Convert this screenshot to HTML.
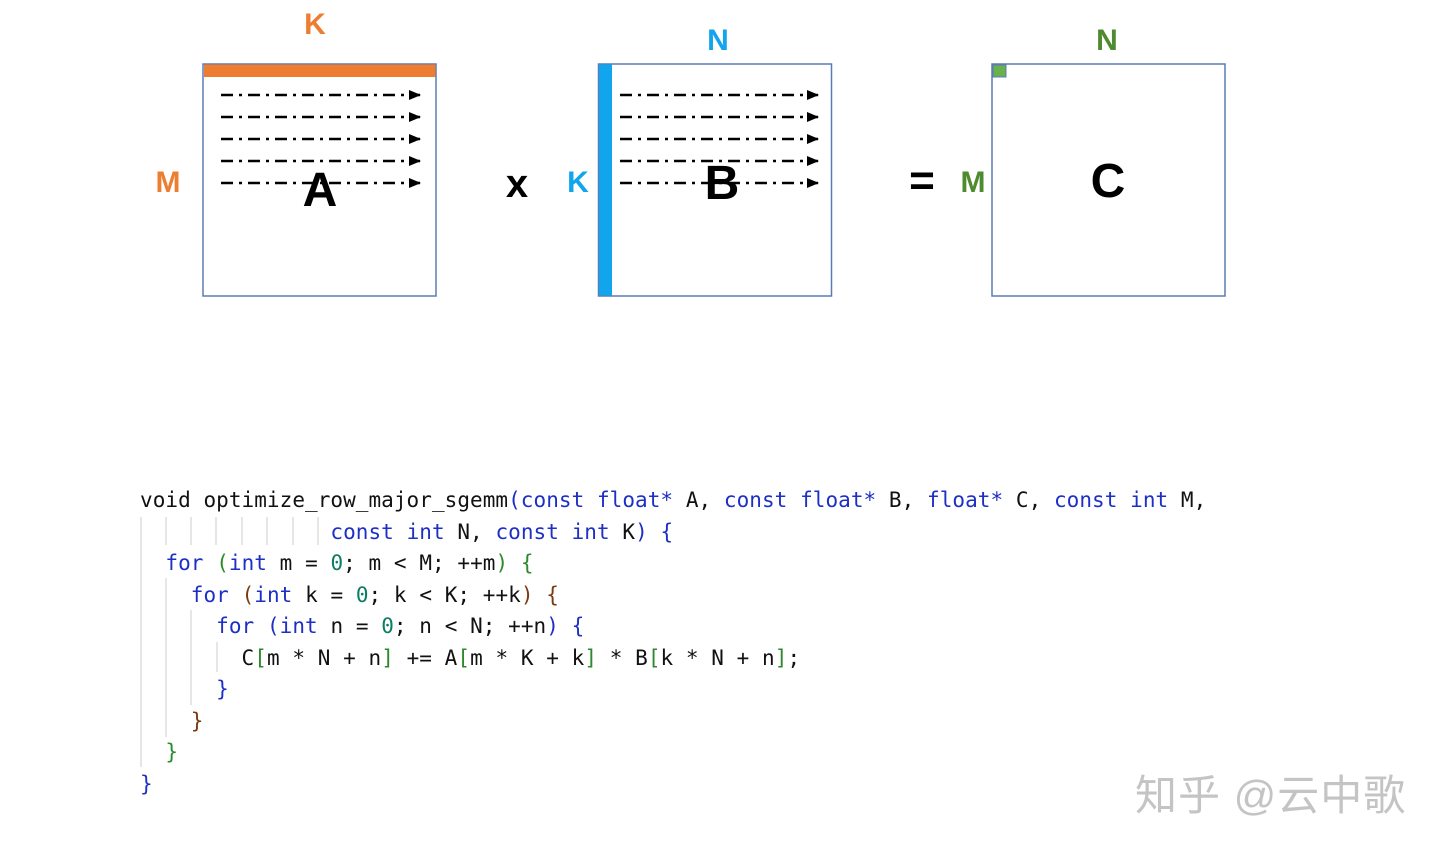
<!DOCTYPE html>
<html><head><meta charset="utf-8"><style>
body{margin:0;width:1440px;height:847px;background:#fff;overflow:hidden;position:relative;font-family:"Liberation Sans",sans-serif}
svg{position:absolute;left:0;top:0}
.code{position:absolute;left:140px;top:485px;margin:0;font-family:"DejaVu Sans Mono","Liberation Mono",monospace;font-size:21px;line-height:31.5px;color:#111;letter-spacing:0.05px}
.k{color:#1d2fc4}.g{color:#2b8a2b}.b{color:#7a3a12}.n{color:#0b7d62}
.wm{position:absolute;left:1135px;top:762px;font-family:"Liberation Sans","Noto Sans CJK SC",sans-serif;font-size:42px;color:#c4c4c4;letter-spacing:1px}
</style></head><body>
<svg width="1440" height="847" viewBox="0 0 1440 847">
<defs>
<marker id="ah" viewBox="0 0 12 10" refX="11" refY="5" markerWidth="12" markerHeight="10" markerUnits="userSpaceOnUse" orient="auto"><path d="M0,0 L12,5 L0,10 z" fill="#000"/></marker>
</defs>
<rect x="203" y="64" width="233" height="232" fill="none" stroke="#5b7bb5" stroke-width="1.5"/>
<rect x="204" y="64.5" width="231.5" height="12.5" fill="#ed7d31"/>
<rect x="598.5" y="64" width="233" height="232" fill="none" stroke="#5b7bb5" stroke-width="1.5"/>
<rect x="599" y="64.5" width="13" height="231" fill="#10a5ec"/>
<rect x="992" y="64" width="233" height="232" fill="none" stroke="#5b7bb5" stroke-width="1.5"/>
<rect x="993" y="65" width="13" height="12" fill="#6ab04c" stroke="#5b7bb5" stroke-width="1"/>
<g stroke="#000" stroke-width="2.6" stroke-dasharray="12,6,3,6" marker-end="url(#ah)">
<line x1="221" y1="95" x2="420" y2="95"/><line x1="221" y1="117" x2="420" y2="117"/><line x1="221" y1="139" x2="420" y2="139"/><line x1="221" y1="161" x2="420" y2="161"/><line x1="221" y1="183" x2="420" y2="183"/>
<line x1="620" y1="95" x2="818" y2="95"/><line x1="620" y1="117" x2="818" y2="117"/><line x1="620" y1="139" x2="818" y2="139"/><line x1="620" y1="161" x2="818" y2="161"/><line x1="620" y1="183" x2="818" y2="183"/>
</g>
<g font-family="Liberation Sans, sans-serif" font-weight="bold" text-anchor="middle">
<text x="315" y="34" font-size="30" fill="#ed7d31">K</text>
<text x="168" y="192" font-size="30" fill="#ed7d31">M</text>
<text x="320" y="206" font-size="48" fill="#000">A</text>
<text x="517" y="197" font-size="40" fill="#000">x</text>
<text x="578" y="192" font-size="30" fill="#10a5ec">K</text>
<text x="718" y="50" font-size="30" fill="#10a5ec">N</text>
<text x="722" y="199" font-size="48" fill="#000">B</text>
<text x="922" y="195" font-size="44" fill="#000">=</text>
<text x="973" y="192" font-size="30" fill="#4e8a2e">M</text>
<text x="1107" y="50" font-size="30" fill="#4e8a2e">N</text>
<text x="1108" y="197" font-size="48" fill="#000">C</text>
</g>
<g stroke="#d6d6d6" stroke-width="1.2">
<line x1="141" y1="517" x2="141" y2="767"/>
<line x1="166" y1="517" x2="166" y2="545"/><line x1="191" y1="517" x2="191" y2="545"/><line x1="216" y1="517" x2="216" y2="545"/><line x1="242" y1="517" x2="242" y2="545"/><line x1="267" y1="517" x2="267" y2="545"/><line x1="293" y1="517" x2="293" y2="545"/><line x1="318" y1="517" x2="318" y2="545"/>
<line x1="166" y1="578" x2="166" y2="737"/>
<line x1="191" y1="610" x2="191" y2="705"/>
<line x1="217" y1="642" x2="217" y2="672"/>
</g>
</svg>
<pre class="code">void optimize_row_major_sgemm<span class="k">(const float*</span> A, <span class="k">const float*</span> B, <span class="k">float*</span> C, <span class="k">const int</span> M,
               <span class="k">const int</span> N, <span class="k">const int</span> K<span class="k">) {</span>
  <span class="k">for</span> <span class="g">(</span><span class="k">int</span> m = <span class="n">0</span>; m &lt; M; ++m<span class="g">) {</span>
    <span class="k">for</span> <span class="b">(</span><span class="k">int</span> k = <span class="n">0</span>; k &lt; K; ++k<span class="b">) {</span>
      <span class="k">for</span> <span class="k">(int</span> n = <span class="n">0</span>; n &lt; N; ++n<span class="k">) {</span>
        C<span class="g">[</span>m * N + n<span class="g">]</span> += A<span class="g">[</span>m * K + k<span class="g">]</span> * B<span class="g">[</span>k * N + n<span class="g">]</span>;
      <span class="k">}</span>
    <span class="b">}</span>
  <span class="g">}</span>
<span class="k">}</span></pre>
<div class="wm">知乎 @云中歌</div>
</body></html>
